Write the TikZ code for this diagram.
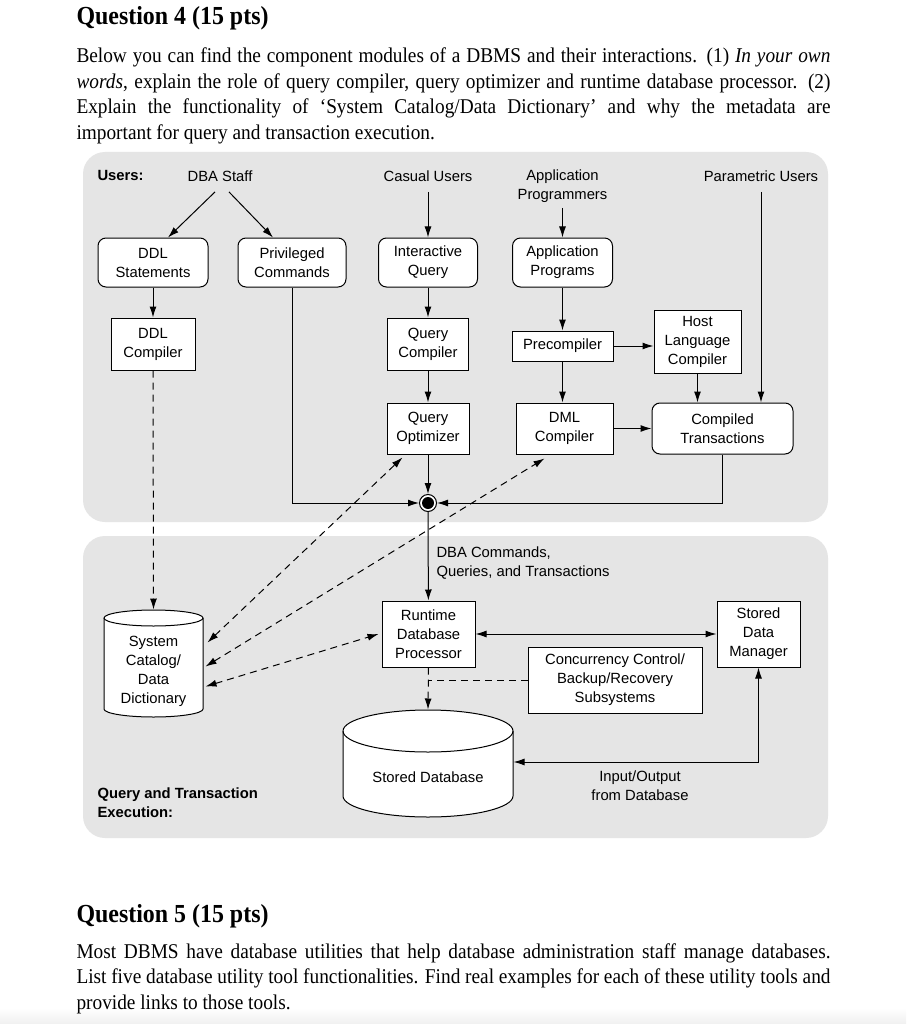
\documentclass[tikz,border=0pt]{standalone}
\usepackage{fontspec}
\setmainfont[FakeStretch=0.92]{Liberation Serif}
\setsansfont{Liberation Sans}
\usetikzlibrary{arrows.meta,calc}
\newcommand\dgfont{\sffamily\fontsize{14.8}{19}\selectfont}
\begin{document}
\begin{tikzpicture}[x=1pt,y=-1pt,line width=1pt,
  box/.style={draw,fill=white,inner sep=0pt,align=center,font=\dgfont},
  rbox/.style={box,rounded corners=8pt},
  lbl/.style={inner sep=0pt,align=center,font=\dgfont},
  arr/.style={-{Latex[length=11pt,width=7pt]}},
  darr/.style={{Latex[length=11pt,width=7pt]}-{Latex[length=11pt,width=7pt]}},
  dsh/.style={dash pattern=on 7pt off 5pt},
  panel/.style={fill=black!10,rounded corners=22pt},
  para/.style={anchor=base west,inner sep=0pt,text width=754pt,align=justify,font=\fontsize{21}{25.5}\selectfont},
  qhead/.style={anchor=base west,inner sep=0pt,font=\fontsize{26}{30}\selectfont\bfseries}]
\useasboundingbox (0,0) rectangle (906,1024);
\fill[white] (0,0) rectangle (906,1024);
\shade[top color=white,bottom color=black!6] (0,1008) rectangle (906,1024);

% question 4
\node[qhead] (q4) at (76,25) {Question 4 (15 pts)};
\node[para] (q4txt) at (76,63) {Below you can find the component modules of a DBMS and their interactions. (1) \textit{In your own}\linebreak \textit{words}, explain the role of query compiler, query optimizer and runtime database processor. (2)\linebreak Explain the functionality of ‘System Catalog/Data Dictionary’ and why the metadata are\linebreak important for query and transaction execution.};

% the two grey panels
\fill[panel] (83,152) rectangle (828,522);
\fill[panel] (83,536) rectangle (828,838);

% cylinders
\draw[fill=white] (104,618) -- (104,709) arc[start angle=180,end angle=0,x radius=49.5,y radius=8] -- (203,618) arc[start angle=0,end angle=-180,x radius=49.5,y radius=8] -- cycle;
\draw (104,618) arc[start angle=180,end angle=0,x radius=49.5,y radius=8];
\draw[fill=white] (343,731) -- (343,796) arc[start angle=180,end angle=0,x radius=85,y radius=21] -- (513,731) arc[start angle=0,end angle=-180,x radius=85,y radius=21] -- cycle;
\draw (343,731) arc[start angle=180,end angle=0,x radius=85,y radius=21];

% users
\node[lbl,anchor=base west,font=\dgfont\bfseries] (users) at (97,181) {Users:};
\node[lbl] (dba) at (220,176) {DBA Staff};
\node[lbl] (casual) at (428,176) {Casual Users};
\node[lbl] (appprog) at (562.5,186) {Application\\Programmers};
\node[lbl] (param) at (761,176) {Parametric Users};

% modules
\node[rbox,minimum width=110,minimum height=49] (ddlst) at (153,262.5) {DDL\\Statements};
\node[rbox,minimum width=108,minimum height=49] (priv) at (292,262.5) {Privileged\\Commands};
\node[rbox,minimum width=99,minimum height=49] (inter) at (428,262.5) {Interactive\\Query};
\node[rbox,minimum width=100,minimum height=49] (apps) at (562.5,262.5) {Application\\Programs};
\node[box,minimum width=84,minimum height=52] (ddlc) at (153,344) {DDL\\Compiler};
\node[box,minimum width=81,minimum height=52] (qcomp) at (428,344) {Query\\Compiler};
\node[box,minimum width=101,minimum height=30] (precomp) at (562.5,346) {Precompiler};
\node[box,minimum width=87,minimum height=63] (host) at (697.5,341.5) {Host\\Language\\Compiler};
\node[box,minimum width=82,minimum height=51] (qopt) at (428,428.5) {Query\\Optimizer};
\node[box,minimum width=97,minimum height=51] (dml) at (564.5,428.5) {DML\\Compiler};
\node[rbox,minimum width=141,minimum height=51] (comptr) at (722.5,428.5) {Compiled\\Transactions};
\node[circle,draw,fill=white,minimum size=17,inner sep=0pt] (join) at (428,503) {};
\fill (join) circle (6);

\node[box,minimum width=93,minimum height=66] (runtime) at (428.5,634) {Runtime\\Database\\Processor};
\node[box,minimum width=83,minimum height=66] (sdm) at (758.5,634) {Stored\\Data\\Manager};
\node[box,minimum width=174,minimum height=66] (conc) at (615,680) {Concurrency Control/\\Backup/Recovery\\Subsystems};
\node[lbl,minimum width=99,minimum height=123] (syscat) at (153.5,671.5) {System\\Catalog/\\Data\\Dictionary};
\node[lbl,minimum width=170,minimum height=134] (sdb) at (428,777) {Stored Database};
\node[lbl,anchor=west,align=left] (cmds) at (436,563) {DBA Commands,\\Queries, and Transactions};
\node[lbl] (io) at (640,786) {Input/Output\\from Database};
\node[lbl,anchor=west,align=left,font=\dgfont\bfseries] (qte) at (97,802.5) {Query and Transaction\\Execution:};

% connectors
\draw[arr] ($(dba.south)+(-5,10)$) -- ($(ddlst.north)+(15,0)$);
\draw[arr] ($(dba.south)+(9,10)$) -- ($(priv.north)+(-19,0)$);
\draw[arr] ($(casual.south)+(0,10)$) -- (inter.north);
\draw[arr] ($(appprog.south)+(0,5)$) -- (apps.north);
\draw[arr] ($(param.south)+(0,10)$) -- (param.south |- comptr.north);
\draw[arr] (ddlst) -- (ddlc);
\draw[arr] (inter) -- (qcomp);
\draw[arr] (qcomp) -- (qopt);
\draw[arr] (apps) -- (precomp);
\draw[arr] (precomp.east) -- (precomp.east -| host.west);
\draw[arr] (precomp.south) -- (precomp.south |- dml.north);
\draw[arr] (host.south) -- (host.south |- comptr.north);
\draw[arr] (dml) -- (comptr);
\draw[arr] (qopt) -- (join);
\draw[arr] (priv.south) |- (join.west);
\draw[arr] (comptr.south) |- (join.east);
\draw[arr] (join) -- (runtime);
\draw[darr] (runtime) -- (sdm);
\draw[darr] ($(sdb.east)+(0,-15)$) -| (sdm.south);
\draw[arr,dsh] (ddlc.south) -- (syscat.north);
\draw[darr,dsh] ($(syscat.north east)+(4,33)$) -- ($(qopt.south west)+(16,3)$);
\draw[darr,dsh] ($(syscat.north east)+(2,57)$) -- ($(dml.south west)+(29,4)$);
\draw[darr,dsh] ($(syscat.north east)+(2,77)$) -- ($(runtime.west)+(-3,0)$);
\draw[arr,dsh] (runtime.south) -- (sdb.north);
\draw[dsh] (conc.west) -- (conc.west -| runtime.south);

% question 5
\node[qhead] (q5) at (76,922) {Question 5 (15 pts)};
\node[para] (q5txt) at (76,958) {Most DBMS have database utilities that help database administration staff manage databases.\linebreak List five database utility tool functionalities. Find real examples for each of these utility tools and\linebreak provide links to those tools.};
\end{tikzpicture}
\end{document}
